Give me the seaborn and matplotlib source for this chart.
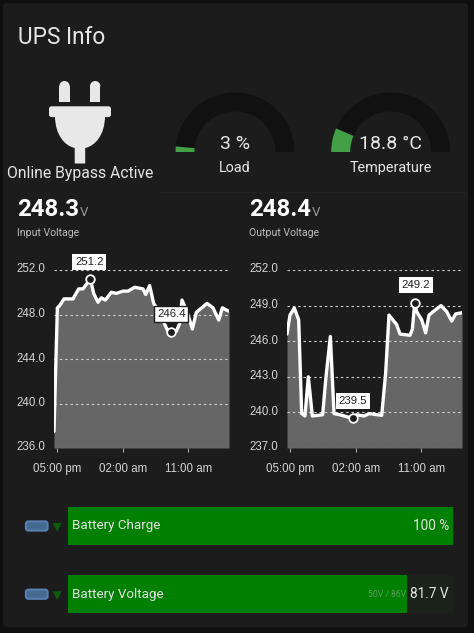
import matplotlib
matplotlib.use("Agg")
import matplotlib.pyplot as plt
import seaborn as sns
import pandas as pd
from matplotlib.patches import FancyBboxPatch, Wedge, Rectangle, PathPatch, Polygon
from matplotlib.path import Path
from matplotlib.transforms import ScaledTranslation

# ---- data ----
input_hours = [-0.41,0.05,0.37,0.96,2.19,2.97,3.56,4.57,5.02,5.62,6.07,6.62,7.44,8.13,9.04,9.73,10.64,11.78,12.15,12.69,13.24,14.06,14.84,15.2,15.66,16.35,16.8,17.12,17.72,18.17,18.54,19.09,20.55,21.37,22.15,22.65,23.2,23.56]
input_volts = [237.5,248.6,248.8,249.4,249.4,250.3,250.3,251.2,249.9,249.1,249.5,249.3,250.0,249.9,250.1,250.1,250.45,250.3,249.8,250.6,249.0,248.2,247.0,246.5,246.4,246.5,247.2,249.3,248.4,247.5,246.7,248.2,249.0,248.6,247.5,248.6,248.4,248.3]
output_hours = [-0.41,0.0,0.59,1.19,1.6,2.05,2.51,3.06,4.47,4.93,5.53,6.03,6.85,8.58,9.13,10.14,10.87,12.56,13.1,13.56,14.61,15.07,16.44,16.76,17.08,17.35,18.04,18.58,19.04,19.63,20.68,21.46,22.15,22.69,23.56]
output_volts = [246.6,248.2,248.8,247.8,239.9,239.7,243.0,239.7,239.8,243.0,246.4,239.9,239.8,239.5,239.8,239.7,239.9,239.75,243.3,248.2,247.4,246.6,246.5,247.0,249.2,248.5,247.8,246.7,248.2,248.5,249.0,248.5,247.7,248.3,248.4]
time_ticks = [0, 9, 18]
time_labels = ["05:00 pm", "02:00 am", "11:00 am"]
input_yticks = [236, 240, 244, 248, 252]
output_yticks = [237, 240, 243, 246, 249, 252]
load_pct = 3
temperature_c = 18.8
temperature_max = 145
bar_names = ["Battery Charge", "Battery Voltage"]
battery_charge = 100
battery_voltage = 81.7
voltage_min, voltage_max = 50, 86

W, H = 474, 633
ROBOTO = "Roboto"
ARIAL = "Liberation Sans"

sns.set_theme(style="dark")
plt.rcParams["font.family"] = [ROBOTO, "DejaVu Sans"]

fig = plt.figure(figsize=(W / 100, H / 100), dpi=100, facecolor="#0f0f0f")


def axes_px(l, t, r, b, **kw):
    return fig.add_axes([l / W, 1 - b / H, (r - l) / W, (b - t) / H], **kw)


# ---- overlay for the card ----
ov = axes_px(0, 0, W, H, zorder=0)
ov.set_xlim(0, W)
ov.set_ylim(H, 0)
ov.axis("off")
ov.add_patch(FancyBboxPatch((3, 3), 465, 624, boxstyle="round,pad=0,rounding_size=4",
                            fc="#1c1c1c", ec="none"))
ov.plot([160, 465], [192, 192], color="#242424", lw=0.7)

ov.text(18, 37, "UPS Info", color="#e6e6e6", fontsize=16.3, va="center", ha="left")

# plug icon
PLUG = "#e8e8e8"
for x0 in (59.3, 90):
    ov.add_patch(Wedge((x0 + 5.2, 86.2), 5.2, 180, 360, fc=PLUG, ec="none"))
    ov.add_patch(Rectangle((x0, 86.2), 10.4, 15.5, fc=PLUG, ec="none"))
ov.add_patch(FancyBboxPatch((49, 106.3), 62, 10.8, boxstyle="round,pad=0,rounding_size=2.5",
                            fc=PLUG, ec="none"))
body = Path([(55, 116), (55, 135), (65, 146), (74.7, 148), (74.7, 163.5), (85.2, 163.5),
             (85.2, 148), (95, 146), (105, 135), (105, 116), (55, 116)],
            [Path.MOVETO, Path.CURVE4, Path.CURVE4, Path.CURVE4, Path.LINETO, Path.LINETO,
             Path.LINETO, Path.CURVE4, Path.CURVE4, Path.CURVE4, Path.CLOSEPOLY])
ov.add_patch(PathPatch(body, fc=PLUG, ec="none"))
ov.text(80, 173.5, "Online Bypass Active", color="#e6e6e6", fontsize=11.3, ha="center", va="center")


# gauges
def gauge(cx, frac, value_text, label, vx):
    ov.add_patch(Wedge((cx, 152), 59.5, 180, 360, width=19, fc="#111111", ec="none"))
    ov.add_patch(Wedge((cx, 152), 59.5, 180, 180 + 180 * frac, width=19, fc="#43a047", ec="none"))
    ov.text(vx, 144, value_text, color="#e6e6e6", fontsize=14, ha="center", va="center")
    ov.text(cx, 168, label, color="#e6e6e6", fontsize=10.4, ha="center", va="center")


gauge(235, load_pct / 100, f"{load_pct} %", "Load", 235)
gauge(390.7, temperature_c / temperature_max, f"{temperature_c} °C", "Temperature", 390.7)


# big values
def big(x, val, name):
    t = ov.text(x - 1, 209.5, val, color="#ffffff", fontsize=17.3, fontweight="bold", ha="left", va="center")
    fig.canvas.draw()
    bb = t.get_window_extent()
    ov.text(bb.x1 + 1, 212, "V", color="#9a9a9a", fontsize=9.5, ha="left", va="center")
    ov.text(x - 0.5, 232.5, name, color="#bdbdbd", fontsize=7.6, ha="left", va="center")


big(18, "248.3", "Input Voltage")
big(250, "248.4", "Output Voltage")


# ---- line charts ----
def chart(l, r, hours, volts, yticks, peaks):
    ax = axes_px(l, 270, r, 448, zorder=2)
    ax.patch.set_alpha(0)
    df = pd.DataFrame({"hours": hours, "volts": volts})
    ax.fill_between(hours, volts, yticks[0], color="#666666", lw=0, zorder=1)
    for y in yticks:
        ax.axhline(y, color="#cfcfcf", lw=0.8, dashes=(2.2, 2.6), zorder=2)
    sns.lineplot(data=df, x="hours", y="volts", ax=ax, color="white", lw=2.4,
                 estimator=None, sort=False, zorder=3, solid_joinstyle="round")
    ax.set_xlim(hours[0], hours[-1])
    ax.set_ylim(yticks[0], yticks[-1])
    ax.set_xticks(time_ticks, time_labels)
    ax.set_yticks(yticks, [f"{v:.1f}" for v in yticks])
    ax.set_xlabel("")
    ax.set_ylabel("")
    ax.grid(False)
    for s in ax.spines.values():
        s.set_visible(False)
    ax.tick_params(axis="x", length=3, width=0.8, color="#aaaaaa", labelcolor="#d4d4d4",
                   labelsize=8.3, pad=7.5, bottom=True)
    ax.tick_params(axis="y", length=0, labelcolor="#d4d4d4", labelsize=8.3, pad=6.5)
    for lab in ax.get_xticklabels() + ax.get_yticklabels():
        lab.set_family(ARIAL)
    up = ScaledTranslation(0, 2 / 100, fig.dpi_scale_trans)
    for lab in ax.get_yticklabels():
        lab.set_transform(lab.get_transform() + up)
    for hx, vy, dx, dy, text, edge in peaks:
        ax.plot([hx], [vy], "o", ms=6.2, mfc="#1c1c1c", mec="white", mew=1.3, zorder=5, clip_on=False)
        ax.annotate(text, (hx, vy), xytext=(dx, dy), textcoords="offset pixels", ha="center",
                    va="center", fontsize=8.2, family=ARIAL, color="#222222", zorder=6,
                    bbox=dict(boxstyle="square,pad=0.25", fc="white", ec=edge, lw=1))
    return ax


chart(54, 229, input_hours, input_volts, input_yticks,
      [(4.57, 251.2, -1, 17, "251.2", "none"), (15.66, 246.4, 0, 18, "246.4", "#1c1c1c")])
chart(287, 462, output_hours, output_volts, output_yticks,
      [(8.58, 239.5, 0, 17, "239.5", "none"), (17.08, 249.2, 1, 18, "249.2", "none")])

# ---- battery bars ----
voltage_pct = (battery_voltage - voltage_min) / (voltage_max - voltage_min) * 100
bars = pd.DataFrame({"name": bar_names, "pct": [battery_charge, voltage_pct]})
bx = axes_px(68, 507.3, 453, 613, zorder=2)
bx.patch.set_alpha(0)
bx.barh([1], [100], height=0.55, color="#1a221a", edgecolor="none", zorder=0)
sns.barplot(data=bars, y="name", x="pct", ax=bx, color="#008000", saturation=1, width=0.55,
            orient="h", zorder=2, edgecolor="none", linewidth=0)
bx.set_xlim(0, 100)
bx.set_ylim(1.275, -0.275)
bx.axis("off")

rows = [526, 594.2]
for yc, name, val in zip(rows, bar_names, [f"{battery_charge} %", f"{battery_voltage} V"]):
    ov.add_patch(FancyBboxPatch((26.5, yc - 4), 20.5, 8, boxstyle="round,pad=0.6,rounding_size=2.5",
                                fc="#466990", ec="#587fb2", lw=1.5))
    ov.add_patch(Polygon([(52.7, yc - 3), (61.7, yc - 3), (57.2, yc + 5.7)], fc="#0b5d0b", ec="none"))
    fig.text(72 / W, 1 - yc / H, name, color="#e6e6e6", fontsize=9.6, va="center", ha="left", zorder=5)
    fig.text(449 / W, 1 - yc / H, val, color="#e6e6e6", fontsize=9.8, va="center", ha="right", zorder=5)
fig.text(406 / W, 1 - 594.5 / H, f"{voltage_min}V / {voltage_max}V", color="#5a9a5a", fontsize=6.2,
         va="center", ha="right", zorder=5)

fig.savefig("out.png", dpi=100, facecolor=fig.get_facecolor())
